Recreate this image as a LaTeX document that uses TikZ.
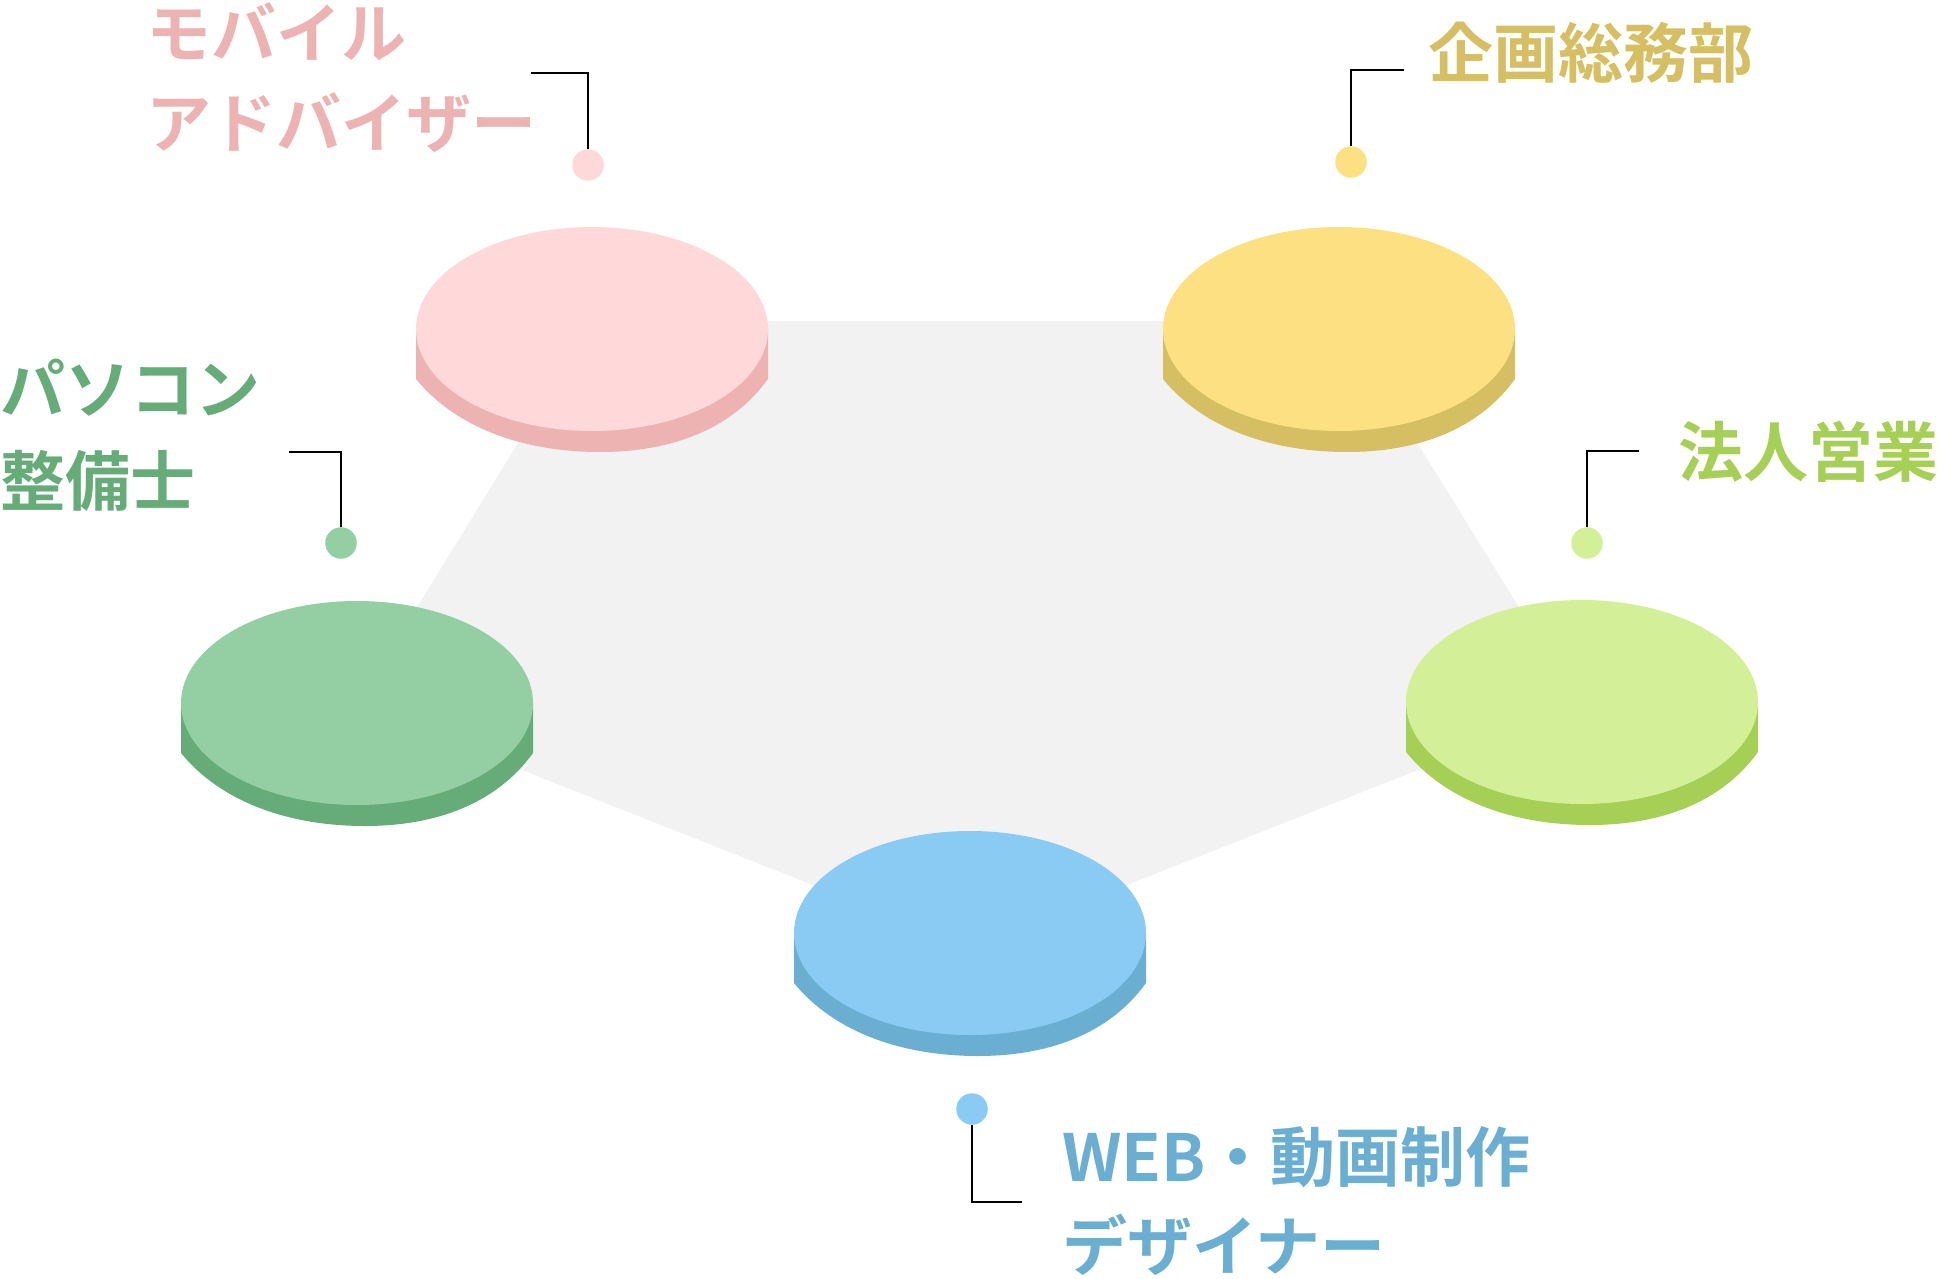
\documentclass[tikz,border=0pt]{standalone}
\usepackage{fontspec}
\newfontfamily\jpb{Noto Sans CJK JP Bold}
\usetikzlibrary{shapes.geometric}
\definecolor{pinkT}{HTML}{FFD9D9}
\definecolor{pinkS}{HTML}{EDB3B3}
\definecolor{yelT}{HTML}{FDE081}
\definecolor{yelS}{HTML}{D6BE62}
\definecolor{grnT}{HTML}{93CFA2}
\definecolor{grnS}{HTML}{65AC78}
\definecolor{bluT}{HTML}{89CBF3}
\definecolor{bluS}{HTML}{6AAED2}
\definecolor{limT}{HTML}{D3F098}
\definecolor{limS}{HTML}{A6CF55}
\definecolor{bgG}{HTML}{F2F2F2}
\newcommand\DiskShape[5]{%
  \fill[#5] (#2-176,#3) -- (#2-176,#3+50)
    .. controls (#2-137,#3+98) and (#2-70,#3+123) .. (#2+8,#3+123)
    .. controls (#2+80,#3+123) and (#2+140,#3+100) .. (#2+176,#3+50)
    -- (#2+176,#3) -- cycle;
  \node[disktop, fill=#4] (#1) at (#2,#3) {};
}
\begin{document}
\begin{tikzpicture}[x=1pt,y=-1pt,
  disktop/.style={ellipse, minimum width=352pt, minimum height=204pt, inner sep=0pt, outer sep=0pt},
  dot/.style={circle, minimum size=31.5pt, inner sep=0pt, outer sep=0pt},
  leader/.style={draw=black, line width=2pt},
  lbl/.style={inner sep=0pt, anchor=base west, font=\jpb\fontsize{65}{65}\selectfont}]
\useasboundingbox (0,0) rectangle (1960,1279);
% background pentagon
\fill[bgG] (593,321) -- (1342,321) -- (1580,706) -- (970,947) -- (357,705) -- cycle;
% disks
\DiskShape{pink}{592}{329}{pinkT}{pinkS}
\DiskShape{yel}{1339}{329}{yelT}{yelS}
\DiskShape{grn}{357}{703}{grnT}{grnS}
\DiskShape{lim}{1582}{702}{limT}{limS}
\DiskShape{blu}{970}{933}{bluT}{bluS}
% dots
\node[dot, fill=pinkT] (pd) at (588,165) {};
\node[dot, fill=yelT] (yd) at (1351,162) {};
\node[dot, fill=grnT] (gd) at (341,543) {};
\node[dot, fill=limT] (ld) at (1587,543) {};
\node[dot, fill=bluT] (bd) at (972,1109) {};
% leader ends
\coordinate (pe) at (531,73.5);
\coordinate (ye) at (1404,70);
\coordinate (ge) at (289,452);
\coordinate (le) at (1639,451);
\coordinate (be) at (1022,1202);
\draw[leader] (pd.north) |- (pe);
\draw[leader] (yd.north) |- (ye);
\draw[leader] (gd.north) |- (ge);
\draw[leader] (ld.north) |- (le);
\draw[leader] (bd.south) |- (be);
% labels
\node[lbl, text=pinkS] (pl1) at (146,57.5) {モバイル};
\node[lbl, text=pinkS] (pl2) at (146,147) {アドバイザー};
\node[lbl, text=yelS] (yl) at (1428,78) {企画総務部};
\node[lbl, text=grnS] (gl1) at (0,413) {パソコン};
\node[lbl, text=grnS] (gl2) at (0,505) {整備士};
\node[lbl, text=limS] (ll) at (1678,476) {法人営業};
\node[lbl, text=bluS] (bl1) at (1062,1181) {WEB・動画制作};
\node[lbl, text=bluS] (bl2) at (1062,1270) {デザイナー};
\end{tikzpicture}
\end{document}
